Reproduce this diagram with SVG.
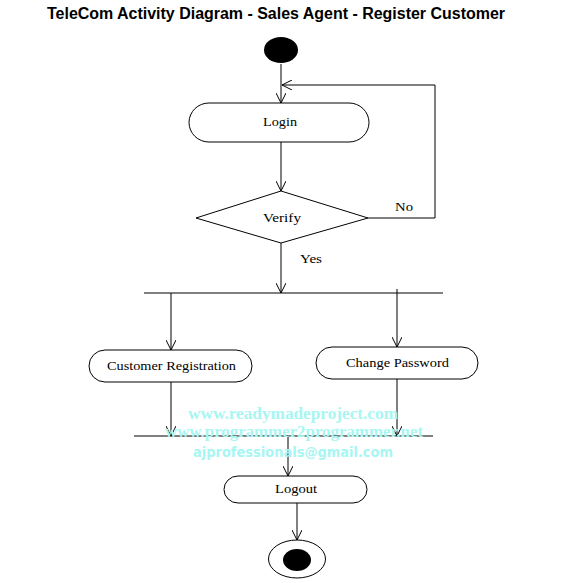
<svg xmlns="http://www.w3.org/2000/svg" width="568" height="583" viewBox="0 0 568 583">
<defs>
<marker id="arr" viewBox="0 0 10 10" refX="10" refY="5" markerWidth="10" markerHeight="10" markerUnits="userSpaceOnUse" orient="auto">
<path d="M0,0 L10,5 L0,10" fill="none" stroke="#000" stroke-width="1"/>
</marker>
<style>
.n{fill:#fff;stroke:#000;stroke-width:1}
.t{font-family:"Liberation Serif","Times New Roman",serif;font-size:12px;fill:#000;text-anchor:middle}
.c{fill:none;stroke:#000;stroke-width:1}
.w{font-weight:bold;fill:#a8f6f2;text-anchor:middle}
</style>
</defs>
<rect width="568" height="583" fill="#fff"/>
<text x="47" y="19" font-family="'Liberation Sans',Arial,sans-serif" font-size="16" font-weight="bold" textLength="458" lengthAdjust="spacingAndGlyphs">TeleCom Activity Diagram - Sales Agent - Register Customer</text>

<g id="connectors">
<path class="c" d="M281,64 L281,103" marker-end="url(#arr)"/>
<path class="c" d="M281,142 L281,191" marker-end="url(#arr)"/>
<path class="c" d="M368,218 L435,218 L435,85 L282,85" marker-end="url(#arr)"/>
<path class="c" d="M281,243 L281,293" marker-end="url(#arr)"/>
<path class="c" d="M171,293 L171,350" marker-end="url(#arr)"/>
<path class="c" d="M397,289 L397,347" marker-end="url(#arr)"/>
<path class="c" d="M171,382 L171,436" marker-end="url(#arr)"/>
<path class="c" d="M397,379 L397,436" marker-end="url(#arr)"/>
<path class="c" d="M288,436 L288,476" marker-end="url(#arr)"/>
<path class="c" d="M297,503 L297,540" marker-end="url(#arr)"/>
<text class="t" x="404" y="211" textLength="18" lengthAdjust="spacingAndGlyphs">No</text>
<text class="t" x="311" y="263" textLength="22" lengthAdjust="spacingAndGlyphs">Yes</text>
</g>

<g id="start"><ellipse cx="281" cy="50" rx="17" ry="13" fill="#000"/></g>

<g id="login">
<rect class="n" x="189" y="103" width="180" height="39" rx="20" ry="19.5"/>
<text class="t" x="280" y="126" textLength="34" lengthAdjust="spacingAndGlyphs">Login</text>
</g>

<g id="verify">
<polygon class="n" points="281,191 368,218 281,243 196,218"/>
<text class="t" x="282" y="222" textLength="38" lengthAdjust="spacingAndGlyphs">Verify</text>
</g>

<g id="forkTop"><line class="c" x1="144" y1="293" x2="443" y2="293"/></g>

<g id="custReg">
<rect class="n" x="89" y="350" width="163" height="32" rx="16" ry="16"/>
<text class="t" x="171.5" y="370" textLength="129" lengthAdjust="spacingAndGlyphs">Customer Registration</text>
</g>

<g id="changePwd">
<rect class="n" x="316" y="347" width="162" height="32" rx="16" ry="16"/>
<text class="t" x="397.5" y="367" textLength="103" lengthAdjust="spacingAndGlyphs">Change Password</text>
</g>

<g id="joinBottom"><line class="c" x1="134" y1="436" x2="433" y2="436"/></g>

<g id="logout">
<rect class="n" x="224" y="476" width="143" height="27" rx="14" ry="13.5"/>
<text class="t" x="296" y="493" textLength="42" lengthAdjust="spacingAndGlyphs">Logout</text>
</g>

<g id="end">
<ellipse class="n" cx="297" cy="559" rx="28.5" ry="19"/>
<ellipse cx="297" cy="560" rx="14" ry="11" fill="#000"/>
</g>

<g id="watermark">
<text class="w" x="293" y="419" font-family="'Liberation Serif','Times New Roman',serif" font-size="17" textLength="210" lengthAdjust="spacingAndGlyphs">www.readymadeproject.com</text>
<text class="w" x="294" y="437" font-family="'Liberation Serif','Times New Roman',serif" font-size="17" textLength="258" lengthAdjust="spacingAndGlyphs">www.programmer2programmer.net</text>
<text class="w" x="293" y="457" font-family="'DejaVu Sans',Verdana,sans-serif" font-size="14" textLength="200" lengthAdjust="spacingAndGlyphs">ajprofessionals@gmail.com</text>
</g>
</svg>
